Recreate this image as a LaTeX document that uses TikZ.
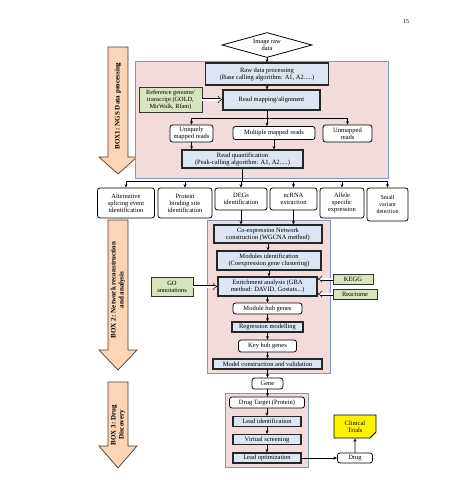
\documentclass[tikz,border=0pt]{standalone}
\usepackage{fontspec}
\setmainfont{Liberation Serif}
\usetikzlibrary{arrows.meta,shapes.geometric,shapes.misc}

\definecolor{areaPink}{HTML}{F2DCDB}
\definecolor{areaEdge}{HTML}{7F95BF}
\definecolor{stepBlue}{HTML}{DCE6F2}
\definecolor{dbGreen}{HTML}{D7E4BD}
\definecolor{boxOrange}{HTML}{FBD5B5}

\tikzstyle{boxArea}=[draw=areaEdge,fill=areaPink,line width=0.9pt]
\tikzstyle{stepState}=[shape=rectangle,draw=black!85,fill=stepBlue,line width=1.1pt,align=center,inner sep=0.5pt,font=\fontsize{6.5}{7}\selectfont]
\tikzstyle{outState}=[shape=rectangle,rounded corners=2.5pt,draw=black,fill=white,line width=0.8pt,align=center,inner sep=0.5pt,font=\fontsize{6.5}{7}\selectfont]
\tikzstyle{dbState}=[shape=rectangle,draw=black!80,fill=dbGreen,line width=0.8pt,align=center,inner sep=0.5pt,font=\fontsize{6.5}{7}\selectfont]
\tikzstyle{bigArrow}=[draw=black!75,fill=boxOrange,line width=0.7pt]
\tikzstyle{boxLabel}=[rotate=90,align=center,font=\bfseries\fontsize{7}{8}\selectfont]
\tikzstyle{feed}=[double,double distance=2pt,line width=0.5pt,-{Implies}]

\begin{document}
\begin{tikzpicture}[x=1pt,y=-1pt,>={Stealth[length=3.5pt,width=3pt]},line width=0.8pt]
        \useasboundingbox (0,0) rectangle (474,480);
        \node[font=\fontsize{6}{7}\selectfont] (pagenum) at (406,22) {15};

        % side arrows
        \draw[bigArrow] (108,47) -- (128,47) -- (128,157) -- (137,157) -- (118,174) -- (99,157) -- (108,157) -- cycle;
        \draw[bigArrow] (108,220) -- (128,220) -- (128,350) -- (137,350) -- (118,370) -- (99,350) -- (108,350) -- cycle;
        \draw[bigArrow] (108,382) -- (128,382) -- (128,446) -- (137,446) -- (118,468) -- (99,446) -- (108,446) -- cycle;
        \node[boxLabel] (box1) at (118,106) {BOX1: NGS Data processing};
        \node[boxLabel] (box2) at (118,290) {BOX 2: Network reconstruction\\and analysis};
        \node[boxLabel] (box3) at (118,425) {BOX 3: Drug\\Discovery};

        % background areas
        \draw[boxArea] (135,61) rectangle (388,178);
        \draw[boxArea] (207,220) rectangle (330,373);
        \draw[boxArea] (225,393) rectangle (308,467);

        % box 1
        \node[shape=diamond,draw=black,fill=white,aspect=3.6,inner sep=0pt,minimum width=90pt,minimum height=25pt,align=center,font=\fontsize{6.5}{7}\selectfont] (img) at (267,45) {Image raw\\data};
        \node[stepState,minimum width=123pt,minimum height=22pt] (raw) at (267,74) {Raw data processing\\(Base calling algorithm: A1, A2.....)};
        \node[dbState,minimum width=63pt,minimum height=25pt,font=\fontsize{6.3}{7}\selectfont] (ref) at (170.5,99.5) {Reference genome/\\transcript (GOLD,\\MirWalk, Rfam)};
        \node[stepState,minimum width=97pt,minimum height=20pt] (map) at (271.5,100) {Read mapping/alignment};
        \node[outState,minimum width=43pt,minimum height=17pt] (uniq) at (191.5,133.5) {Uniquely\\mapped reads};
        \node[outState,minimum width=82pt,minimum height=13pt] (multi) at (274,133) {Multiple mapped reads};
        \node[outState,minimum width=49pt,minimum height=17pt] (unmap) at (347.5,133.5) {Unmapped\\reads};
        \node[stepState,minimum width=121pt,minimum height=18pt] (quant) at (242.5,159) {Read quantification\\(Peak-calling algorithm: A1, A2.....)};

        % analyses
        \node[outState,minimum width=57pt,minimum height=30pt] (alt) at (126,203) {Alternative\\splicing event\\identification};
        \node[outState,minimum width=54pt,minimum height=30pt] (prot) at (185,203) {Protein\\binding site\\identification};
        \node[outState,minimum width=52pt,minimum height=22pt] (degs) at (241,199) {DEGs\\identification};
        \node[outState,minimum width=47pt,minimum height=22pt] (ncrna) at (293.5,199) {ncRNA\\extraction};
        \node[outState,minimum width=44pt,minimum height=30pt] (allele) at (342,203) {Allele\\specific\\expression};
        \node[outState,minimum width=41pt,minimum height=33pt,font=\fontsize{6}{7}\selectfont] (small) at (387.5,204.5) {Small\\variant\\detection};

        % box 2
        \node[stepState,minimum width=108pt,minimum height=18pt] (coexp) at (268,234) {Co-expression Network\\construction (WGCNA method)};
        \node[stepState,minimum width=104pt,minimum height=19pt] (modules) at (269,260.5) {Modules identification\\(Coexpression gene clustering)};
        \node[stepState,minimum width=99pt,minimum height=19pt] (enrich) at (267.5,286.5) {Enrichment analysis (GBA\\method: DAVID, Gostats...)};
        \node[dbState,minimum width=42pt,minimum height=19pt] (go) at (172,286.5) {GO\\annotations};
        \node[dbState,minimum width=40pt,minimum height=10pt] (kegg) at (353,279) {KEGG};
        \node[dbState,minimum width=44pt,minimum height=10pt] (reactome) at (355,294) {Reactome};
        \node[outState,minimum width=69pt,minimum height=11pt] (hub) at (267.5,308.5) {Module hub genes};
        \node[stepState,minimum width=71pt,minimum height=10pt] (regr) at (267.5,327) {Regression modelling};
        \node[outState,minimum width=58pt,minimum height=12pt] (keyhub) at (267.5,346) {Key hub genes};
        \node[stepState,minimum width=109pt,minimum height=10pt] (model) at (267.5,364) {Model construction and validation};

        % box 3
        \node[outState,minimum width=31pt,minimum height=11pt] (gene) at (267.5,383.5) {Gene};
        \node[outState,minimum width=75pt,minimum height=11pt] (target) at (267,402.5) {Drug Target (Protein)};
        \node[stepState,minimum width=68pt,minimum height=10pt] (leadid) at (267,421.5) {Lead identification};
        \node[stepState,minimum width=68pt,minimum height=10pt] (virtual) at (267,439.5) {Virtual screening};
        \node[stepState,minimum width=68pt,minimum height=10pt] (leadopt) at (267,458) {Lead optimization};
        \node[outState,minimum width=35pt,minimum height=10pt] (drug) at (355,458) {Drug};
        \node[shape=chamfered rectangle,chamfered rectangle corners=south east,chamfered rectangle sep=3pt,draw=black,fill=yellow,line width=0.8pt,minimum width=42pt,minimum height=23pt,align=center,inner sep=0.5pt,font=\fontsize{6.5}{7}\selectfont] (clinical) at (355,426.5) {Clinical\\Trials};

        \coordinate (split1) at (267,118);
        \coordinate (split2) at (242.5,181);

        \draw [->] (img) to (raw);
        \draw [->] (raw) to (raw |- map.north);
        \draw (raw |- map.south) to (split1);
        \draw [->] (split1) -| (uniq.north);
        \draw [->] (split1) to (split1 |- multi.north);
        \draw [->] (split1) -| (unmap.north);
        \draw [->] (uniq) to (uniq |- quant.north);
        \draw [->] (multi) to (multi |- quant.north);
        \draw [feed] (ref) to (map.west |- ref.east);

        \draw (quant) to (split2);
        \draw [->] (split2) -| (alt.north);
        \draw [->] (split2) -| (prot.north);
        \draw [->] (split2) -| (degs.north);
        \draw [->] (split2) -| (ncrna.north);
        \draw [->] (split2) -| (allele.north);
        \draw [->] (split2) -| (small.north);

        \draw [->] (degs) to (degs |- coexp.north);
        \draw [->] (ncrna) to (ncrna |- coexp.north);
        \draw [->] (coexp) to (coexp |- modules.north);
        \draw [->] (modules) to (modules |- enrich.north);
        \draw [->] (enrich) to (enrich |- hub.north);
        \draw [->] (hub) to (regr);
        \draw [->] (regr) to (keyhub);
        \draw [->] (keyhub) to (model);
        \draw [feed] (go) to (enrich.west |- go.east);
        \draw [feed] (kegg) to (enrich.east |- kegg.west);
        \draw [feed] (reactome) to (enrich.east |- reactome.west);

        \draw [->] (model) to (gene);
        \draw [->] (gene) to (gene |- target.north);
        \draw [->] (target) to (target |- leadid.north);
        \draw [->] (leadid) to (virtual);
        \draw [->] (virtual) to (leadopt);
        \draw [->] (leadopt) to (drug);
        \draw [->] (drug) to (clinical);
    \end{tikzpicture}
\end{document}
